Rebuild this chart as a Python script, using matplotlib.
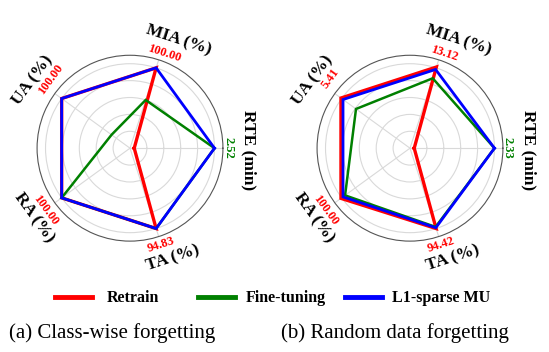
import numpy as np
import matplotlib
matplotlib.use("Agg")
import matplotlib.pyplot as plt
from matplotlib.lines import Line2D

plt.rcParams['font.family'] = ['Liberation Serif', 'DejaVu Serif']

# axes of the radar, counter-clockwise starting at the right
categories = ["RTE (min)", "MIA (%)", "UA (%)", "RA (%)", "TA (%)"]
methods = ["Retrain", "Fine-tuning", "L1-sparse MU"]
colors = ["red", "green", "blue"]

# normalised scores (1.0 = best ring)
retrain_cls = [0.05, 1.00, 1.00, 1.00, 1.00]
finetune_cls = [1.00, 0.60, 0.27, 1.00, 1.00]
l1sparse_cls = [1.00, 1.00, 1.00, 1.00, 1.00]

retrain_rnd = [0.05, 1.01, 1.01, 1.01, 1.00]
finetune_rnd = [1.00, 0.87, 0.79, 0.95, 0.98]
l1sparse_rnd = [1.00, 0.98, 0.98, 0.98, 0.99]

# value labels printed next to each axis
cls_labels = ["2.52", "100.00", "100.00", "100.00", "94.83"]
rnd_labels = ["2.33", "13.12", "5.41", "100.00", "94.42"]
label_colors = ["green", "red", "red", "red", "red"]

captions = ["(a) Class-wise forgetting", "(b) Random data forgetting"]

angles = np.arange(len(categories)) * 2 * np.pi / len(categories)


def tangent_rotation(theta):
    rot = np.degrees(theta) - 90
    if rot > 90:
        rot -= 180
    return rot


def draw_radar(ax, series, value_labels):
    for vals, col, lw in zip(series, colors, [2.4, 1.8, 2.0]):
        v = list(vals) + [vals[0]]
        a = list(angles) + [angles[0]]
        ax.plot(a, v, color=col, lw=lw, solid_joinstyle='miter')
    ax.set_ylim(0, 1.1)
    ax.set_yticks([0.2, 0.4, 0.6, 0.8, 1.0])
    ax.set_yticklabels([])
    ax.set_xticks(angles)
    ax.set_xticklabels([])
    ax.grid(color='#d9d9d9', lw=0.8)
    ax.spines['polar'].set_color('#555555')
    ax.spines['polar'].set_linewidth(0.8)
    # axis names and values, written along the circle
    name_shift = [-1, -6, 1, 0, 3]
    val_shift = [0, -2, -5, 0, 0]
    val_r = [1.16, 1.19, 1.25, 1.24, 1.2]
    for i, th in enumerate(angles):
        t1 = th + np.radians(name_shift[i])
        ax.text(t1, 1.40, categories[i], rotation=tangent_rotation(th),
                ha='center', va='center', fontsize=12.5, fontweight='bold',
                rotation_mode='anchor', clip_on=False)
        t2 = th + np.radians(val_shift[i])
        ax.text(t2, val_r[i], value_labels[i], rotation=tangent_rotation(th),
                ha='center', va='center', fontsize=9, fontweight='bold',
                color=label_colors[i], rotation_mode='anchor', clip_on=False)


fig = plt.figure(figsize=(5.49, 3.52), dpi=100)
ax1 = fig.add_axes([0.0674, 0.315, 0.3388, 0.528], projection='polar')
ax2 = fig.add_axes([0.5774, 0.315, 0.3388, 0.528], projection='polar')

draw_radar(ax1, [retrain_cls, finetune_cls, l1sparse_cls], cls_labels)
draw_radar(ax2, [retrain_rnd, finetune_rnd, l1sparse_rnd], rnd_labels)

# one legend per entry so the uneven spacing of the original can be kept
leg_x = [0.100, 0.361, 0.628]
leg_pad = [0.95, 0.65, 0.65]
for m, c, x, pad in zip(methods, colors, leg_x, leg_pad):
    h = Line2D([0], [0], color=c, lw=3.5)
    lg = fig.legend([h], [m], loc='center left', bbox_to_anchor=(x, 0.153),
                    frameon=False, borderpad=0, borderaxespad=0,
                    handlelength=2.3, handletextpad=pad,
                    prop={'weight': 'bold', 'size': 11.5})

fig.text(0.204, 0.054, captions[0], ha='center', va='center', fontsize=15)
fig.text(0.72, 0.054, captions[1], ha='center', va='center', fontsize=15)

fig.savefig('out.png', dpi=100)
